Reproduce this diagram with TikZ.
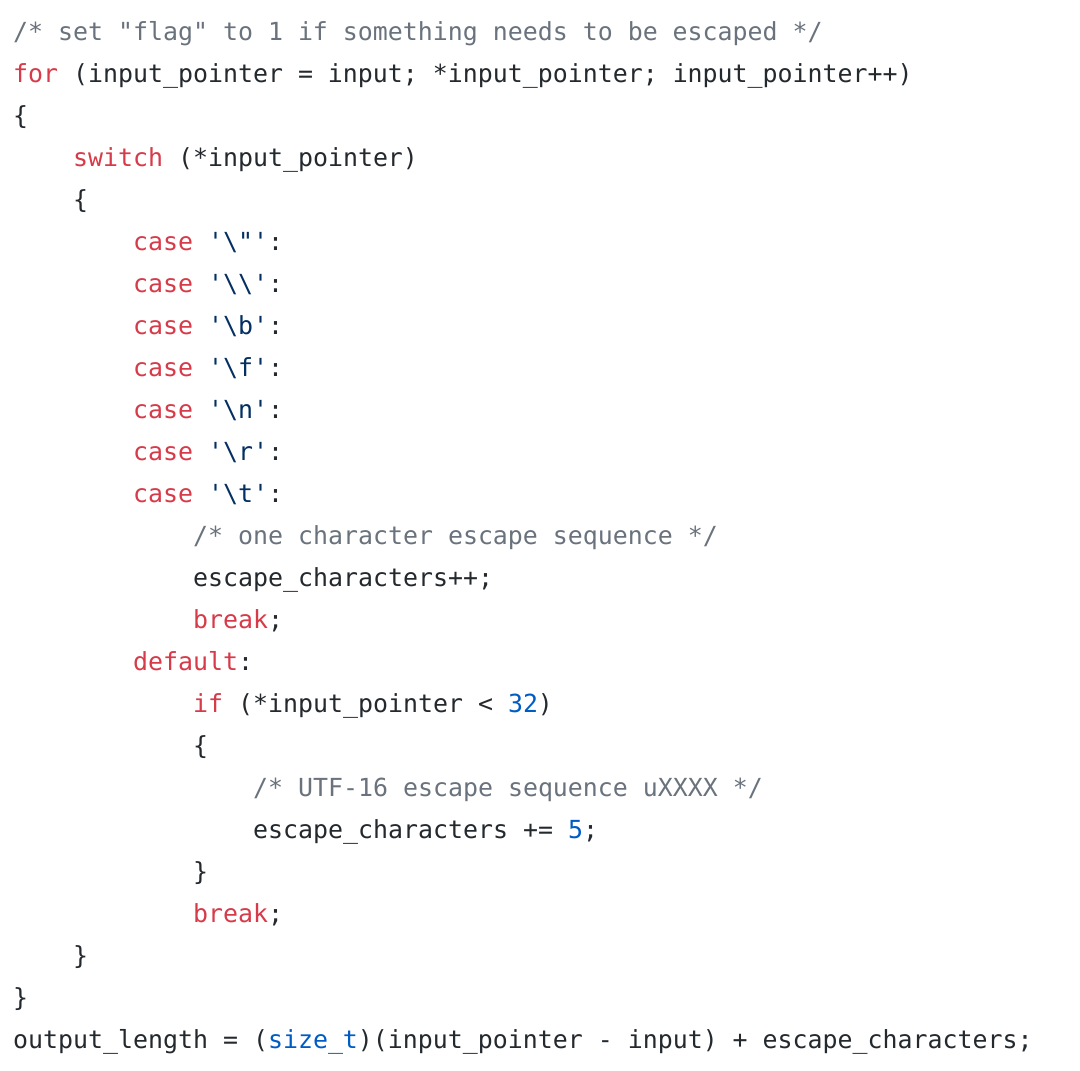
\documentclass[tikz,border=0pt]{standalone}
\usepackage{fontspec}
\newfontfamily\codefont{DejaVu Sans Mono}
\definecolor{ctext}{HTML}{24292E}
\definecolor{ccom}{HTML}{6A737D}
\definecolor{ckey}{HTML}{D73A49}
\definecolor{cstrc}{HTML}{032F62}
\definecolor{cnumc}{HTML}{005CC5}
\newcommand\ckw[1]{\textcolor{ckey}{#1}}
\newcommand\ccm[1]{\textcolor{ccom}{#1}}
\newcommand\cstr[1]{\textcolor{cstrc}{#1}}
\newcommand\cnum[1]{\textcolor{cnumc}{#1}}
\newcommand\bs{\textbackslash}
\begin{document}
\begin{tikzpicture}[x=1pt,y=1pt,
  codeline/.style={anchor=base west,inner sep=0pt,text=ctext,font=\codefont\fontsize{24.9}{30}\selectfont}]
\useasboundingbox[fill=white] (0,0) rectangle (1080,-1071);
\newcommand\cl[4]{\node[codeline] (#1) at (13+15*#2,-40-42*#3) {#4};}
\cl{l0}{0}{0}{\ccm{/* set "flag" to 1 if something needs to be escaped */}}
\cl{l1}{0}{1}{\ckw{for} (input\_pointer = input; *input\_pointer; input\_pointer++)}
\cl{l2}{0}{2}{\{}
\cl{l3}{4}{3}{\ckw{switch} (*input\_pointer)}
\cl{l4}{4}{4}{\{}
\cl{l5}{8}{5}{\ckw{case} \cstr{'\bs"'}:}
\cl{l6}{8}{6}{\ckw{case} \cstr{'\bs\bs'}:}
\cl{l7}{8}{7}{\ckw{case} \cstr{'\bs b'}:}
\cl{l8}{8}{8}{\ckw{case} \cstr{'\bs f'}:}
\cl{l9}{8}{9}{\ckw{case} \cstr{'\bs n'}:}
\cl{l10}{8}{10}{\ckw{case} \cstr{'\bs r'}:}
\cl{l11}{8}{11}{\ckw{case} \cstr{'\bs t'}:}
\cl{l12}{12}{12}{\ccm{/* one character escape sequence */}}
\cl{l13}{12}{13}{escape\_characters++;}
\cl{l14}{12}{14}{\ckw{break};}
\cl{l15}{8}{15}{\ckw{default}:}
\cl{l16}{12}{16}{\ckw{if} (*input\_pointer < \cnum{32})}
\cl{l17}{12}{17}{\{}
\cl{l18}{16}{18}{\ccm{/* UTF-16 escape sequence uXXXX */}}
\cl{l19}{16}{19}{escape\_characters += \cnum{5};}
\cl{l20}{12}{20}{\}}
\cl{l21}{12}{21}{\ckw{break};}
\cl{l22}{4}{22}{\}}
\cl{l23}{0}{23}{\}}
\cl{l24}{0}{24}{output\_length = (\cnum{size\_t})(input\_pointer - input) + escape\_characters;}
\end{tikzpicture}
\end{document}
